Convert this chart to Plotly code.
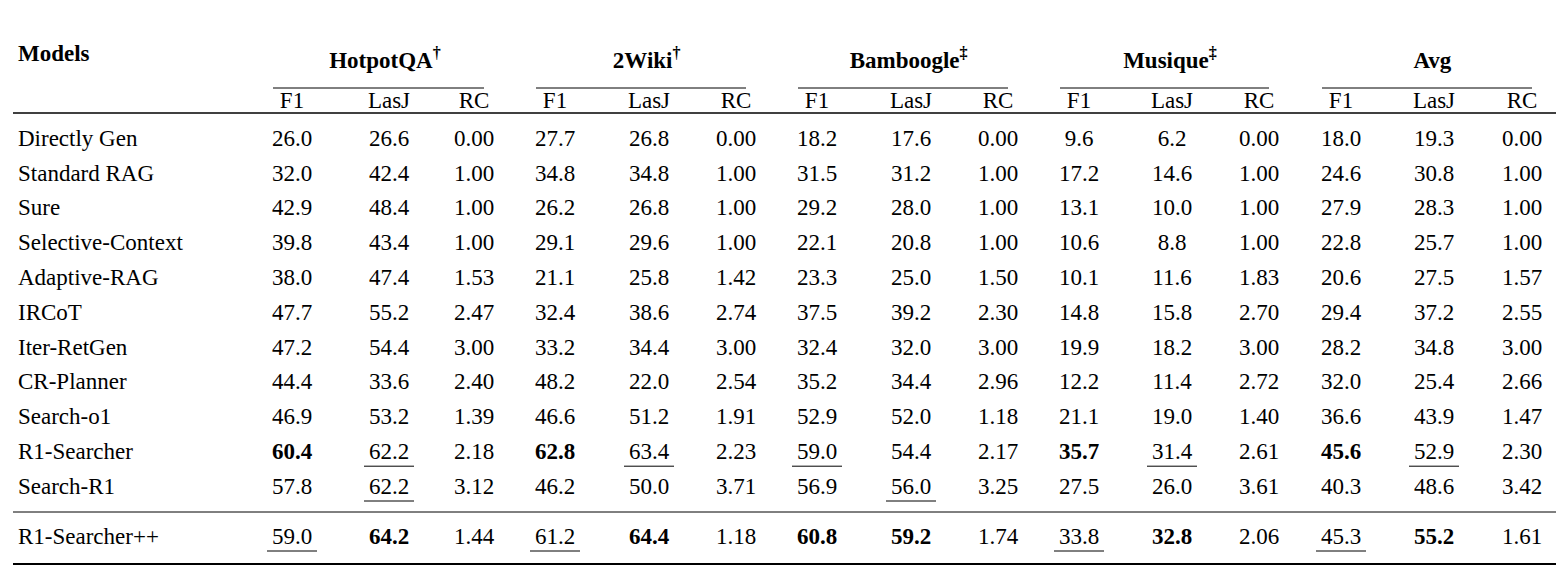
import plotly.graph_objects as go

models = ["Directly Gen", "Standard RAG", "Sure", "Selective-Context", "Adaptive-RAG",
          "IRCoT", "Iter-RetGen", "CR-Planner", "Search-o1", "R1-Searcher", "Search-R1",
          "R1-Searcher++"]
groups = ["HotpotQA<sup>†</sup>", "2Wiki<sup>†</sup>", "Bamboogle<sup>‡</sup>",
          "Musique<sup>‡</sup>", "Avg"]
metrics = ["F1", "LasJ", "RC"]

values = [
    ["26.0", "26.6", "0.00", "27.7", "26.8", "0.00", "18.2", "17.6", "0.00", "9.6", "6.2", "0.00", "18.0", "19.3", "0.00"],
    ["32.0", "42.4", "1.00", "34.8", "34.8", "1.00", "31.5", "31.2", "1.00", "17.2", "14.6", "1.00", "24.6", "30.8", "1.00"],
    ["42.9", "48.4", "1.00", "26.2", "26.8", "1.00", "29.2", "28.0", "1.00", "13.1", "10.0", "1.00", "27.9", "28.3", "1.00"],
    ["39.8", "43.4", "1.00", "29.1", "29.6", "1.00", "22.1", "20.8", "1.00", "10.6", "8.8", "1.00", "22.8", "25.7", "1.00"],
    ["38.0", "47.4", "1.53", "21.1", "25.8", "1.42", "23.3", "25.0", "1.50", "10.1", "11.6", "1.83", "20.6", "27.5", "1.57"],
    ["47.7", "55.2", "2.47", "32.4", "38.6", "2.74", "37.5", "39.2", "2.30", "14.8", "15.8", "2.70", "29.4", "37.2", "2.55"],
    ["47.2", "54.4", "3.00", "33.2", "34.4", "3.00", "32.4", "32.0", "3.00", "19.9", "18.2", "3.00", "28.2", "34.8", "3.00"],
    ["44.4", "33.6", "2.40", "48.2", "22.0", "2.54", "35.2", "34.4", "2.96", "12.2", "11.4", "2.72", "32.0", "25.4", "2.66"],
    ["46.9", "53.2", "1.39", "46.6", "51.2", "1.91", "52.9", "52.0", "1.18", "21.1", "19.0", "1.40", "36.6", "43.9", "1.47"],
    ["60.4", "62.2", "2.18", "62.8", "63.4", "2.23", "59.0", "54.4", "2.17", "35.7", "31.4", "2.61", "45.6", "52.9", "2.30"],
    ["57.8", "62.2", "3.12", "46.2", "50.0", "3.71", "56.9", "56.0", "3.25", "27.5", "26.0", "3.61", "40.3", "48.6", "3.42"],
    ["59.0", "64.2", "1.44", "61.2", "64.4", "1.18", "60.8", "59.2", "1.74", "33.8", "32.8", "2.06", "45.3", "55.2", "1.61"],
]
# (row, col) of bold and underlined cells
bold = {(9, 0), (9, 3), (9, 9), (9, 12), (11, 1), (11, 4), (11, 6), (11, 7), (11, 10), (11, 13)}
underline = {(9, 1), (9, 4), (9, 6), (9, 10), (9, 13), (10, 1), (10, 7),
             (11, 0), (11, 3), (11, 9), (11, 12)}

col_x = [284, 381, 466, 547, 641, 728, 809, 903, 990, 1071, 1164, 1251, 1333, 1426, 1514]
row_y = [125 + 34.8 * i for i in range(11)] + [523]
FONT = "Liberation Serif"
FS = 23

fig = go.Figure()
xs, ys, ts = [], [], []
for r, row in enumerate(values):
    for c, v in enumerate(row):
        xs.append(col_x[c]); ys.append(row_y[r])
        ts.append(f"<b>{v}</b>" if (r, c) in bold else v)
fig.add_trace(go.Scatter(x=xs, y=ys, text=ts, mode="text", textposition="middle center",
                         textfont=dict(family=FONT, size=FS, color="black"), hoverinfo="skip"))
fig.add_trace(go.Scatter(x=[10] * len(models), y=row_y, text=models, mode="text",
                         textposition="middle right",
                         textfont=dict(family=FONT, size=FS, color="black"), hoverinfo="skip"))
# header
fig.add_trace(go.Scatter(x=[10], y=[40], text=["<b>Models</b>"], mode="text",
                         textposition="middle right",
                         textfont=dict(family=FONT, size=FS, color="black"), hoverinfo="skip"))
gx = [sum(col_x[3 * g:3 * g + 3]) / 3 for g in range(5)]
fig.add_trace(go.Scatter(x=gx, y=[47] * 5, text=[f"<b>{g}</b>" for g in groups], mode="text",
                         textposition="middle center",
                         textfont=dict(family=FONT, size=FS, color="black"), hoverinfo="skip"))
fig.add_trace(go.Scatter(x=col_x, y=[87] * 15, text=metrics * 5, mode="text",
                         textposition="middle center",
                         textfont=dict(family=FONT, size=FS, color="black"), hoverinfo="skip"))

shapes = []
for g in range(5):
    shapes.append(dict(type="line", x0=col_x[3 * g] - 19, x1=col_x[3 * g + 2] + 10,
                       y0=73, y1=73, line=dict(color="black", width=1)))
for y, w in [(98, 1.5), (497, 1), (549, 2)]:
    shapes.append(dict(type="line", x0=5, x1=1560, y0=y, y1=y, line=dict(color="black", width=w)))
for (r, c) in underline:
    shapes.append(dict(type="line", x0=col_x[c] - 25, x1=col_x[c] + 25,
                       y0=row_y[r] + 13, y1=row_y[r] + 13, line=dict(color="black", width=1)))

fig.update_layout(
    width=1564, height=584, margin=dict(l=0, r=0, t=0, b=0),
    paper_bgcolor="white", plot_bgcolor="white", showlegend=False, shapes=shapes,
    xaxis=dict(range=[0, 1564], visible=False, fixedrange=True),
    yaxis=dict(range=[577, -7], visible=False, fixedrange=True),
)
fig.write_html("out.html")
